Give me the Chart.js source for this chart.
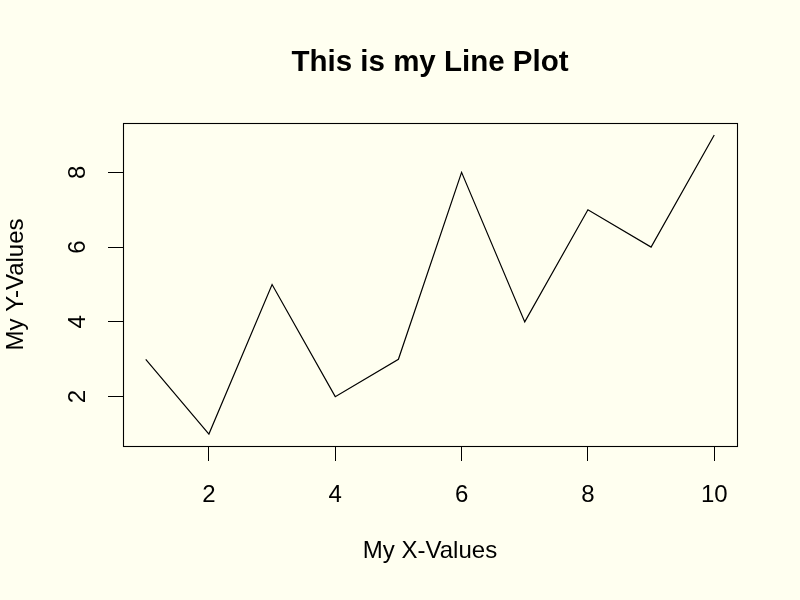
<!DOCTYPE html>
<html>
<head>
<meta charset="utf-8">
<script src="https://cdn.jsdelivr.net/npm/chart.js@4/dist/chart.umd.min.js"></script>
<style>
  html, body { margin: 0; padding: 0; background: #FFFFF0; }
  canvas { display: block; }
</style>
</head>
<body>
<canvas id="plot" width="800" height="600"></canvas>
<script>
// values
const xValues = [1, 2, 3, 4, 5, 6, 7, 8, 9, 10];
const yValues = [3, 1, 5, 2, 3, 8, 4, 7, 6, 9];
const xTicks = [2, 4, 6, 8, 10];
const yTicks = [2, 4, 6, 8];

const FONT = "'Liberation Sans', Arial, Helvetica, sans-serif";

// R style box around the plot region
const boxPlugin = {
  id: 'box',
  afterDraw(chart) {
    const a = chart.chartArea;
    const ctx = chart.ctx;
    ctx.save();
    ctx.strokeStyle = '#000';
    ctx.lineWidth = 1.1;
    ctx.strokeRect(Math.round(a.left) + 0.5, Math.round(a.top) + 0.5,
      Math.round(a.right - a.left), Math.round(a.bottom - a.top));
    ctx.restore();
  }
};

const ctx = document.getElementById('plot').getContext('2d');
new Chart(ctx, {
  type: 'line',
  data: {
    datasets: [{
      data: xValues.map((x, i) => ({ x: x, y: yValues[i] })),
      borderColor: '#000',
      borderWidth: 1.2,
      pointRadius: 0,
      tension: 0,
      fill: false
    }]
  },
  options: {
    responsive: false,
    devicePixelRatio: 1,
    animation: false,
    layout: { padding: { left: 0, right: 63, top: 0, bottom: 0 } },
    plugins: {
      legend: { display: false },
      tooltip: { enabled: false },
      title: {
        display: true,
        text: 'This is my Line Plot',
        color: '#000',
        fullSize: false,
        font: { family: FONT, size: 29.5, weight: 'bold', lineHeight: 1.2 },
        padding: { top: 45.3, bottom: 42.3 }
      }
    },
    scales: {
      x: {
        type: 'linear',
        min: 0.64,
        max: 10.36,
        afterBuildTicks: s => { s.ticks = xTicks.map(v => ({ value: v })); },
        afterFit: s => { s.height = 154; },
        border: { display: false },
        grid: { drawOnChartArea: false, drawTicks: true, tickLength: 15, color: '#000', lineWidth: 1 },
        ticks: { color: '#000', padding: 20, font: { family: FONT, size: 24 }, maxRotation: 0 },
        title: {
          display: true,
          text: 'My X-Values',
          color: '#000',
          font: { family: FONT, size: 24, lineHeight: 1.2 },
          padding: { top: 0, bottom: 34 }
        }
      },
      y: {
        type: 'linear',
        min: 0.68,
        max: 9.32,
        afterBuildTicks: s => { s.ticks = yTicks.map(v => ({ value: v })); },
        afterFit: s => { s.width = 123; },
        border: { display: false },
        grid: { drawOnChartArea: false, drawTicks: true, tickLength: 15, color: '#000', lineWidth: 1 },
        ticks: {
          color: '#000', padding: 23, crossAlign: 'center',
          minRotation: 90, maxRotation: 90,
          font: { family: FONT, size: 24 }
        },
        title: {
          display: true,
          text: 'My Y-Values',
          color: '#000',
          font: { family: FONT, size: 24, lineHeight: 1.2 },
          padding: { top: 2, bottom: 0 }
        }
      }
    }
  },
  plugins: [boxPlugin]
});
</script>
</body>
</html>
